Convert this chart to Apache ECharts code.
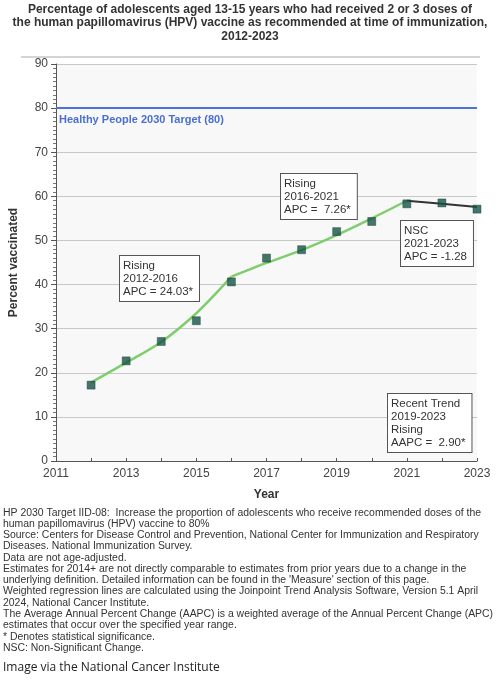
<!DOCTYPE html>
<html>
<head>
<meta charset="utf-8">
<script src="https://cdn.jsdelivr.net/npm/echarts@6/dist/echarts.min.js"></script>
<style>
  html, body { margin: 0; padding: 0; background: #fff; }
  #chart { width: 500px; height: 680px; }
</style>
</head>
<body>
<div id="chart"></div>
<script>
'use strict';

// observed survey estimates
var years = [2012, 2013, 2014, 2015, 2016, 2017, 2018, 2019, 2020, 2021, 2022, 2023];
var observed = [17.2, 22.7, 27.1, 31.8, 40.6, 46.0, 47.9, 52.0, 54.3, 58.3, 58.5, 57.1];

// joinpoint regression segments
var trendYears1 = [2012, 2013, 2014, 2015, 2016];
var trend1 = [17.8, 22.3, 27.0, 33.5, 41.8];
var trendYears2 = [2016, 2017, 2018, 2019, 2020, 2021];
var trend2 = [41.8, 44.9, 47.8, 51.2, 55.0, 59.0];
var trendYears3 = [2021, 2022, 2023];
var trend3 = [59.0, 58.3, 57.6];

var target = 80;
var targetLabel = 'Healthy People 2030 Target (80)';

var boxTexts = [
    'Rising\n2012-2016\nAPC = 24.03*',
    'Rising\n2016-2021\nAPC =  7.26*',
    'NSC\n2021-2023\nAPC = -1.28',
    'Recent Trend\n2019-2023\nRising\nAAPC =  2.90*'
];

var titleText = 'Percentage of adolescents aged 13-15 years who had received 2 or 3 doses of\n' +
    'the human papillomavirus (HPV) vaccine as recommended at time of immunization,\n' +
    '2012-2023';

var notes = [
    'HP 2030 Target IID-08:  Increase the proportion of adolescents who receive recommended doses of the',
    'human papillomavirus (HPV) vaccine to 80%',
    'Source: Centers for Disease Control and Prevention, National Center for Immunization and Respiratory',
    'Diseases. National Immunization Survey.',
    'Data are not age-adjusted.',
    'Estimates for 2014+ are not directly comparable to estimates from prior years due to a change in the',
    'underlying definition. Detailed information can be found in the \'Measure\' section of this page.',
    'Weighted regression lines are calculated using the Joinpoint Trend Analysis Software, Version 5.1 April',
    '2024, National Cancer Institute.',
    'The Average Annual Percent Change (AAPC) is a weighted average of the Annual Percent Change (APC)',
    'estimates that occur over the specified year range.',
    '* Denotes statistical significance.',
    'NSC: Non-Significant Change.'
];

function pairs(xs, ys) {
    return xs.map(function (x, i) { return [x, ys[i]]; });
}

function box(text, x, y) {
    return {
        type: 'text',
        x: x,
        y: y,
        z: 100,
        style: {
            text: text,
            font: '11.5px "Liberation Sans", Arial, sans-serif',
            fill: '#333',
            lineHeight: 13,
            backgroundColor: '#fff',
            borderColor: '#555',
            borderWidth: 1,
            padding: [3, 6, 3, 3],
            boxShadowColor: 'rgba(0,0,0,0.3)',
            boxShadowBlur: 3,
            boxShadowOffsetX: 2,
            boxShadowOffsetY: 2
        }
    };
}

var chart = echarts.init(document.getElementById('chart'));
chart.setOption({
    animation: false,
    backgroundColor: '#fff',
    textStyle: { fontFamily: '"Liberation Sans", Arial, sans-serif' },
    grid: {
        left: 52,
        right: 23,
        top: 64,
        bottom: 219,
        show: true,
        backgroundColor: '#f8f8f8',
        borderWidth: 0
    },
    xAxis: {
        type: 'value',
        min: 2011,
        max: 2023,
        interval: 1,
        name: 'Year',
        nameLocation: 'middle',
        nameGap: 28,
        nameTextStyle: { fontSize: 12, fontWeight: 'bold', color: '#333' },
        axisLine: { lineStyle: { color: '#555' } },
        axisTick: { inside: true, length: 3, lineStyle: { color: '#555' } },
        axisLabel: {
            fontSize: 12,
            color: '#444',
            margin: 7,
            formatter: function (v) { return (v - 2011) % 2 === 0 ? String(v) : ''; }
        },
        splitLine: { show: false }
    },
    yAxis: {
        type: 'value',
        min: 0,
        max: 90,
        interval: 10,
        name: 'Percent vaccinated',
        nameLocation: 'middle',
        nameGap: 36,
        nameTextStyle: { fontSize: 12, fontWeight: 'bold', color: '#333' },
        axisLine: { show: true, lineStyle: { color: '#555' } },
        axisTick: { show: true, length: 5, lineStyle: { color: '#555' } },
        minorTick: { show: true, splitNumber: 10, length: 3, lineStyle: { color: '#777' } },
        axisLabel: { fontSize: 12, color: '#444', margin: 8 },
        splitLine: { lineStyle: { color: '#c8c8c8' } }
    },
    graphic: [
        {
            type: 'text',
            x: 250,
            y: 3,
            style: {
                text: titleText,
                font: 'bold 12px "Liberation Sans", Arial, sans-serif',
                fill: '#333',
                align: 'center',
                lineHeight: 13.3
            }
        },
        {
            type: 'line',
            shape: { x1: 21, y1: 57, x2: 480, y2: 57 },
            style: { stroke: '#aaa', lineWidth: 1 }
        },
        box(boxTexts[0], 120, 256),
        box(boxTexts[1], 281, 174),
        box(boxTexts[2], 401, 221),
        box(boxTexts[3], 388, 394),
        {
            type: 'text',
            x: 3,
            y: 507,
            style: {
                text: notes.join('\n'),
                font: '10.45px "Liberation Sans", Arial, sans-serif',
                fill: '#333',
                lineHeight: 11.28
            }
        },
        {
            type: 'text',
            x: 3,
            y: 662,
            style: {
                text: 'Image via the National Cancer Institute',
                font: '12px "Open Sans", sans-serif',
                fill: '#222'
            }
        }
    ],
    series: [
        {
            name: 'Trend 2012-2016',
            type: 'line',
            data: pairs(trendYears1, trend1),
            smooth: 0.3,
            symbol: 'none',
            lineStyle: { color: '#7fcd6d', width: 2.5 },
            z: 2,
            markLine: {
                silent: true,
                symbol: 'none',
                lineStyle: { color: '#4a74d8', width: 2, type: 'solid' },
                label: {
                    position: 'insideStartBottom',
                    distance: [3, 6],
                    formatter: targetLabel,
                    color: '#4a6fd0',
                    fontSize: 11,
                    fontWeight: 'bold'
                },
                data: [{ yAxis: target }]
            }
        },
        {
            name: 'Trend 2016-2021',
            type: 'line',
            data: pairs(trendYears2, trend2),
            smooth: 0.3,
            symbol: 'none',
            lineStyle: { color: '#7fcd6d', width: 2.5 },
            z: 2
        },
        {
            name: 'Trend 2021-2023',
            type: 'line',
            data: pairs(trendYears3, trend3),
            symbol: 'none',
            lineStyle: { color: '#333', width: 2 },
            z: 2
        },
        {
            name: 'Observed',
            type: 'scatter',
            data: pairs(years, observed),
            symbol: 'rect',
            symbolSize: 8,
            itemStyle: { color: '#175446', borderColor: '#0f3a31', borderWidth: 0.5 },
            z: 5
        }
    ]
});
</script>
</body>
</html>
